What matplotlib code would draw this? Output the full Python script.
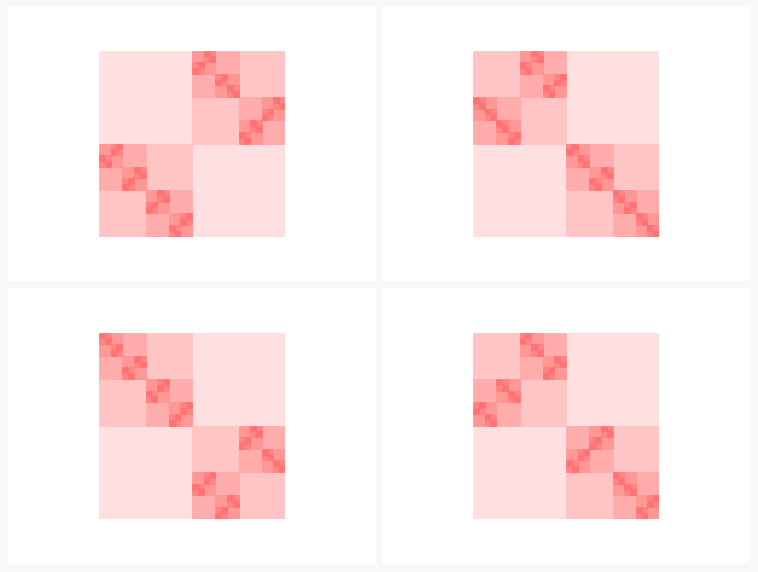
import matplotlib
matplotlib.use("Agg")
import matplotlib.pyplot as plt
from matplotlib.patches import Rectangle

# swap flags per tree level (0 = children on main diagonal, 1 = anti-diagonal),
# listed breadth-first, top-row child first
panel1 = [[1], [0, 0], [0, 1, 0, 0], [1, 0, 1, 1, 1, 1, 1, 1],
          [0, 1, 1, 0, 0, 1, 0, 0, 1, 0, 0, 1, 0, 1, 1, 0]]
panel2 = [[0], [1, 0], [0, 0, 0, 0], [1, 1, 0, 0, 0, 1, 0, 0],
          [0, 0, 1, 0, 0, 0, 0, 1, 1, 0, 0, 0, 0, 1, 0, 0]]
panel3 = [[0], [0, 1], [0, 0, 0, 0], [0, 1, 1, 1, 1, 0, 1, 1],
          [0, 1, 0, 0, 1, 0, 1, 1, 0, 1, 0, 0, 1, 0, 0, 1]]
panel4 = [[0], [1, 0], [0, 1, 1, 0], [0, 1, 0, 0, 1, 1, 0, 1],
          [1, 0, 0, 1, 0, 0, 1, 0, 0, 1, 1, 0, 0, 0, 1, 0]]
panels = [panel1, panel2, panel3, panel4]

N = 64
W, H = 758, 572
fig = plt.figure(figsize=(W / 100, H / 100), dpi=100, facecolor="#f8f8f8")

# panel boxes in pixels: (left, top, width, height)
boxes = [(8, 6, 368, 275), (382, 6, 368, 275), (8, 288, 368, 275), (382, 288, 368, 275)]
msize = 186

for flags, (px, py, pw, ph) in zip(panels, boxes):
    bg = fig.add_axes([px / W, 1 - (py + ph) / H, pw / W, ph / H])
    bg.set_facecolor("white")
    bg.set_xticks([]); bg.set_yticks([])
    for s in bg.spines.values():
        s.set_visible(False)
    mx = px + (pw - msize) / 2
    my = py + (ph - msize) / 2
    ax = fig.add_axes([mx / W, 1 - (my + msize) / H, msize / W, msize / H])
    ax.set_xlim(0, N); ax.set_ylim(N, 0)
    ax.axis("off")
    blocks = [(0, 0)]
    size = N
    for lvl in range(len(flags) + 1):
        for (r, c) in blocks:
            ax.add_patch(Rectangle((c, r), size, size, facecolor=(1, 0, 0, 0.12),
                                   edgecolor=(1, 0, 0, 0.06), linewidth=0.6))
        if lvl == len(flags):
            break
        h = size // 2
        nxt = []
        for (r, c), f in zip(blocks, flags[lvl]):
            if f == 0:
                nxt += [(r, c), (r + h, c + h)]
            else:
                nxt += [(r, c + h), (r + h, c)]
        blocks = nxt
        size = h

fig.savefig("out.png", dpi=100, facecolor=fig.get_facecolor())
